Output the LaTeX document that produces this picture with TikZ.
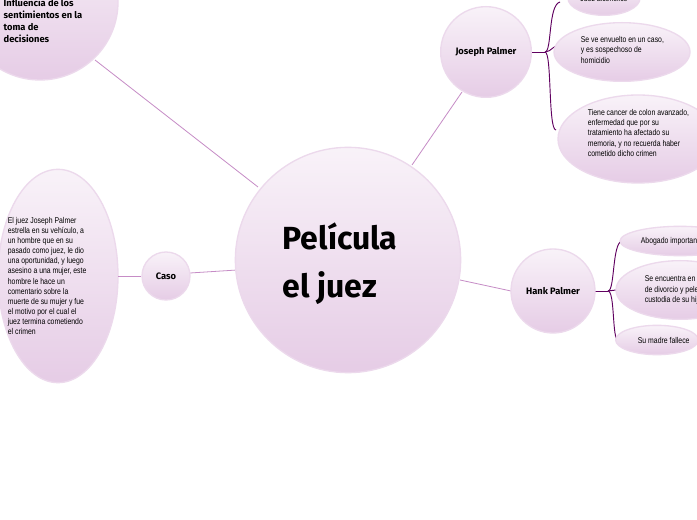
\documentclass[tikz,border=0pt]{standalone}
\usetikzlibrary{shapes.geometric}
\usepackage{fontspec}
\setmainfont{Fira Sans}
\newfontfamily\narrowf{Liberation Sans}
\begin{document}
\begin{tikzpicture}[x=0.75pt,y=-0.75pt,
  bub/.style={draw=white!85!violet,line width=1pt,top color=violet!5,bottom color=violet!20,inner sep=0pt},
  conn/.style={draw=violet!45,line width=0.6pt},
  br/.style={draw=violet!75!black,line width=0.7pt},
  lab/.style={font=\bfseries\fontsize{7}{9}\selectfont,align=left},
  nar/.style={font=\narrowf\fontsize{6.3}{7.6}\selectfont,align=left,xscale=0.82}]
\clip (0,0) rectangle (697,520);
\fill[white] (0,0) rectangle (697,520);
% connectors
\coordinate (tlA) at (95,60); \coordinate (tlB) at (258,187);
\draw[conn] (tlA) -- (tlB);
\coordinate (cL) at (237,270); \coordinate (casoR) at (190,273);
\draw[conn] (casoR) -- (cL);
\coordinate (cTR) at (412,165); \coordinate (jpB) at (462,92);
\draw[conn] (cTR) -- (jpB);
\coordinate (cR) at (460,280); \coordinate (hpL) at (511,291);
\draw[conn] (cR) -- (hpL);
% Joseph branch
\coordinate (jpR) at (531,52); \coordinate (jk) at (545,52);
\draw[br] (jpR) -- (jk);
\draw[br] (jk) .. controls (552,52) and (548,5) .. (560,2);
\draw[br] (jk) .. controls (552,52) and (552,44) .. (566,44);
\draw[br] (jk) .. controls (552,52) and (548,130) .. (556,130);
% Hank branch
\coordinate (hpR) at (595,291); \coordinate (hk) at (608,291);
\draw[br] (hpR) -- (hk);
\draw[br] (hk) .. controls (615,291) and (612,243) .. (622,241);
\draw[br] (hk) -- (616,290);
\draw[br] (hk) .. controls (615,291) and (612,340) .. (618,340);
% nodes
\node[bub,circle,minimum size=117pt] (tl) at (40,2) {};
\node[lab,anchor=north west] at (-1,-6) {Influencia de los\\sentimientos en la\\toma de\\decisiones};
\node[bub,ellipse,minimum width=90pt,minimum height=160pt] (el) at (58,276) {};
\node[nar,anchor=west] at (4,276) {El juez Joseph Palmer\\estrella en su vehículo, a\\un hombre que en su\\pasado como juez, le dio\\una oportunidad, y luego\\asesino a una mujer, este\\hombre le hace un\\comentario sobre la\\muerte de su mujer y fue\\el motivo por el cual el\\juez termina cometiendo\\el crimen};
\node[bub,circle,minimum size=36pt,lab] (caso) at (166,276) {Caso};
\coordinate (elR) at (118,276);
\draw[conn] (caso) -- (elR);
\node[bub,circle,minimum size=169pt] (c) at (348,260) {};
\node[font=\bfseries\fontsize{24}{36}\selectfont,align=left,anchor=west] at (278,264) {Película\\el juez};
\node[bub,circle,minimum size=68pt,lab] (jp) at (486,52) {Joseph Palmer};
\node[bub,circle,minimum size=63pt,lab] (hp) at (553,291) {Hank Palmer};
\node[bub,ellipse,minimum width=66pt,minimum height=26pt,nar] (j1) at (604,-2) {Juez alcohólico};
\node[bub,ellipse,minimum width=102pt,minimum height=44pt] (j2) at (622,52) {};
\node[nar,anchor=west] at (577,50) {Se ve envuelto en un caso,\\y es sospechoso de\\homicidio};
\node[bub,ellipse,minimum width=120pt,minimum height=66pt] (j3) at (638,139) {};
\node[nar,anchor=west] at (584,133) {Tiene cancer de colon avanzado,\\enfermedad que por su\\tratamiento ha afectado su\\memoria, y no recuerda haber\\cometido dicho crimen};
\node[bub,ellipse,minimum width=90pt,minimum height=22pt] (h1) at (680,241) {};
\node[nar,anchor=west] at (637,241) {Abogado importante};
\node[bub,ellipse,minimum width=96pt,minimum height=44pt] (h2) at (680,290) {};
\node[nar,anchor=west] at (641,290) {Se encuentra en proceso\\de divorcio y pelea la\\custodia de su hija};
\node[bub,ellipse,minimum width=62pt,minimum height=22pt] (h3) at (657,340) {};
\node[nar,anchor=west] at (634,340) {Su madre fallece};
\end{tikzpicture}
\end{document}
